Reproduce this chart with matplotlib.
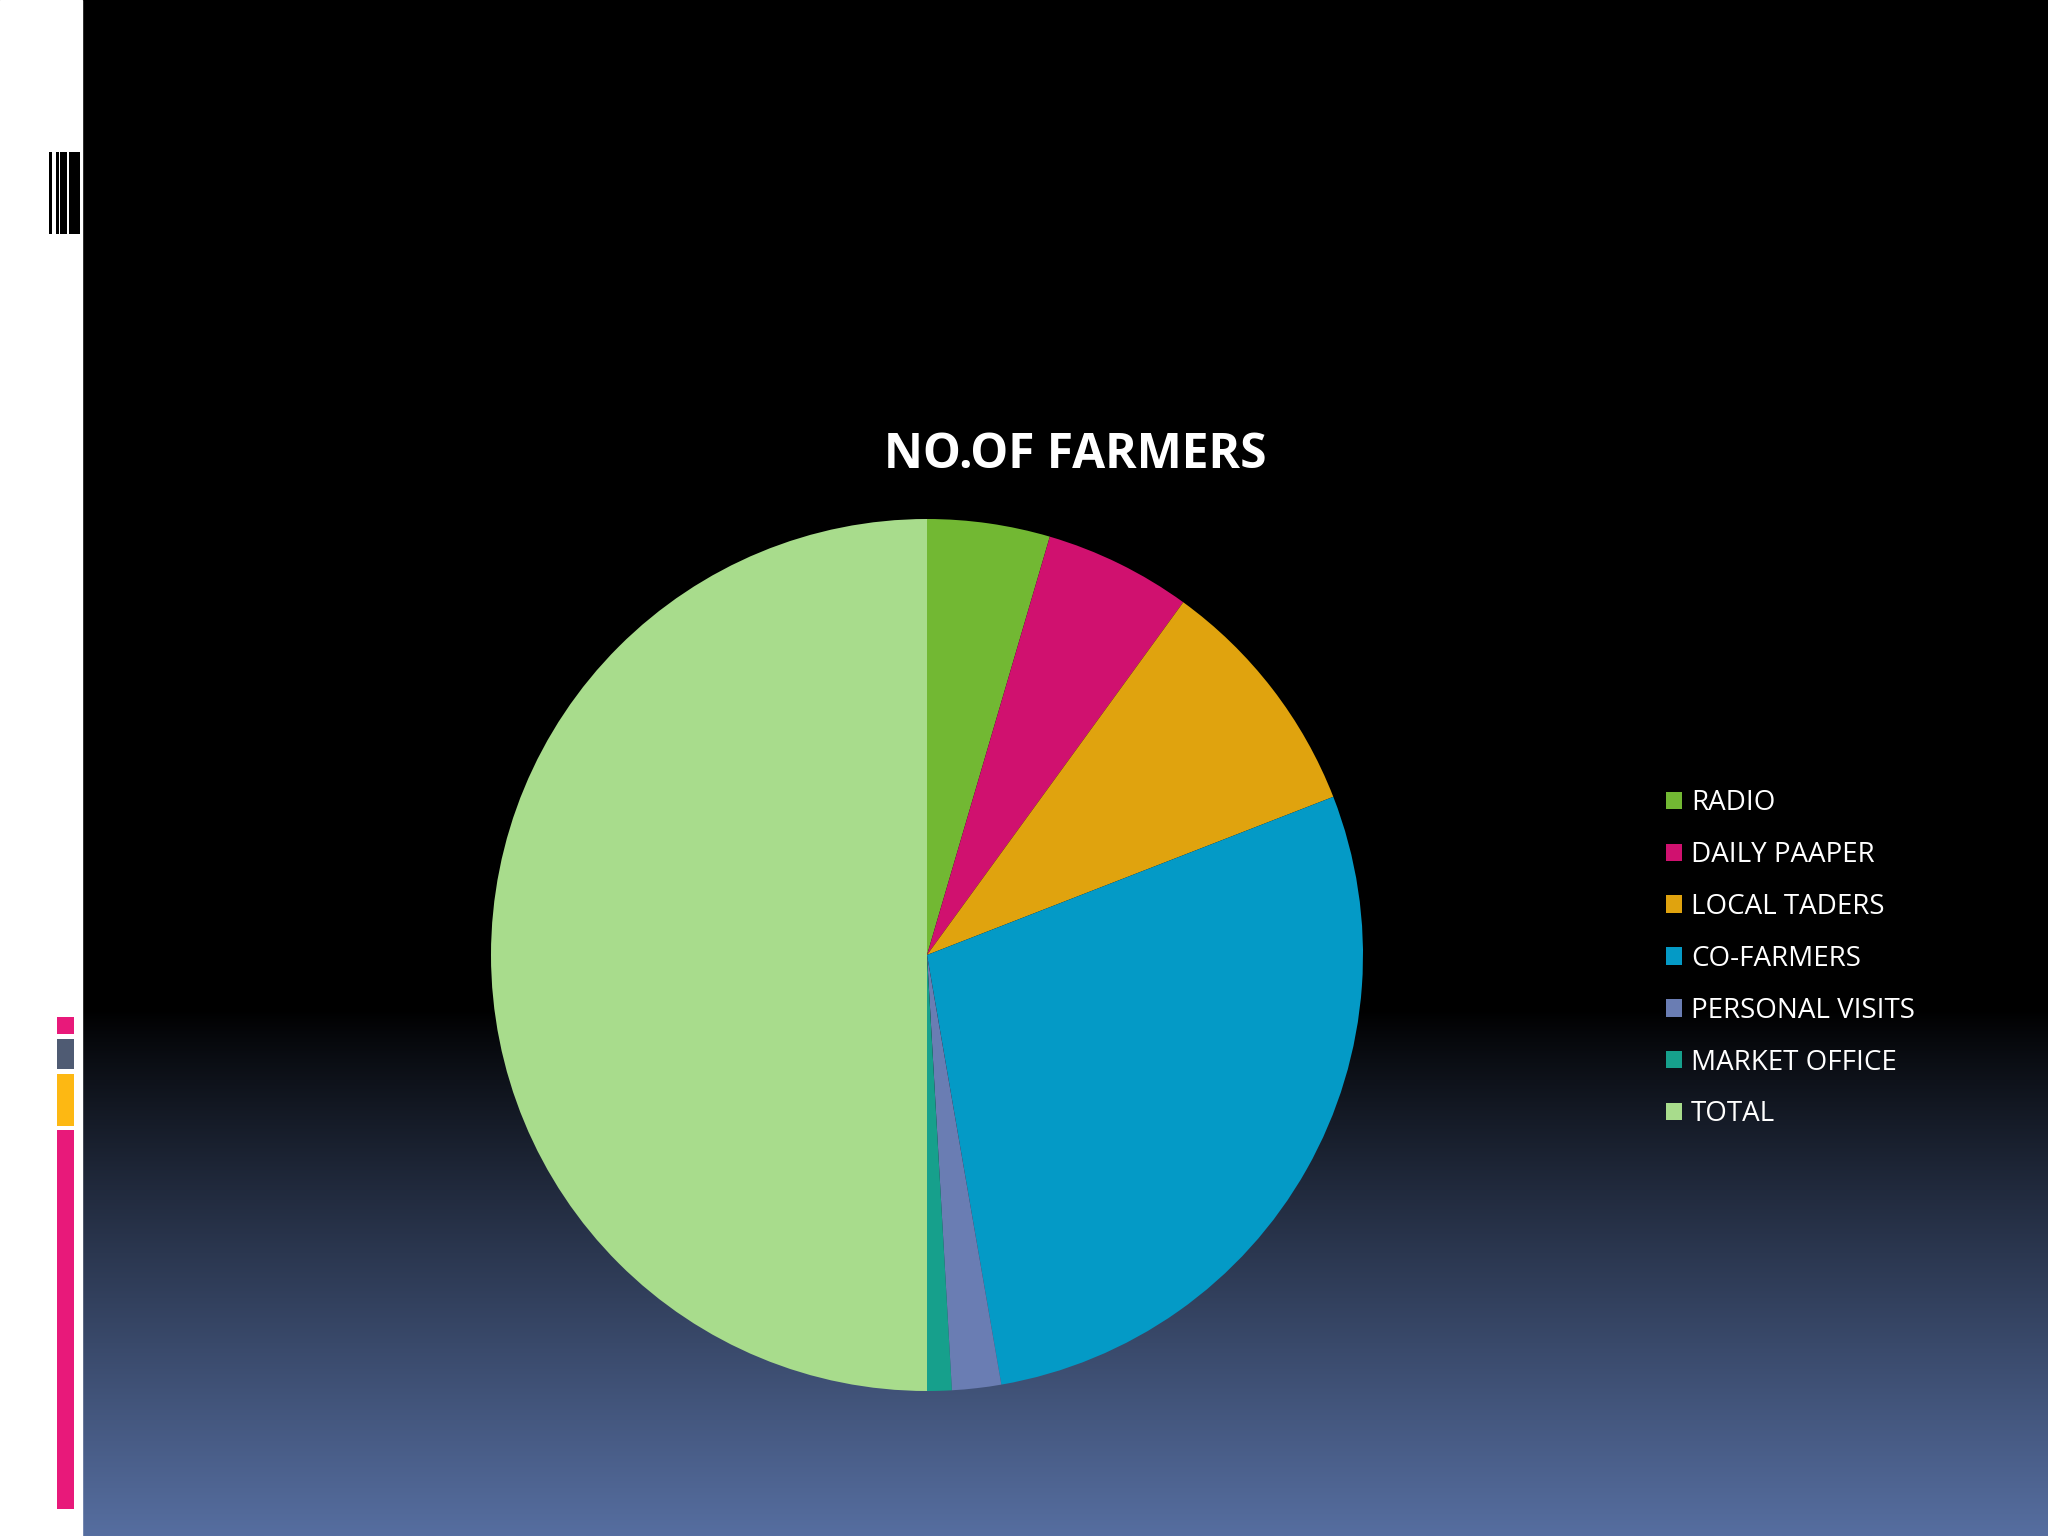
import numpy as np
import matplotlib
matplotlib.use("Agg")
import matplotlib.pyplot as plt
from matplotlib.patches import Rectangle

title = "NO.OF FARMERS"
categories = ["RADIO", "DAILY PAAPER", "LOCAL TADERS", "CO-FARMERS",
              "PERSONAL VISITS", "MARKET OFFICE", "TOTAL"]
values = [10, 12, 20, 62, 4, 2, 110]
colors = ["#72b833", "#d0116f", "#e0a30e", "#049ac6", "#6a7db3", "#16a08c", "#a8dc8c"]

W, H = 2048, 1536
fig = plt.figure(figsize=(W / 100, H / 100), dpi=100)

# background gradient
bg = fig.add_axes([0, 0, 1, 1])
bg.set_axis_off()
ys = np.linspace(0, 1, H)  # 0 = top
start = 1010 / H
t = np.clip((ys - start) / (1 - start), 0, 1)
t = t ** 0.9
top = np.array([0, 0, 0])
bot = np.array([86, 110, 160]) / 255
grad = top[None, :] * (1 - t[:, None]) + bot[None, :] * t[:, None]
img = np.repeat(grad[:, None, :], 4, axis=1)
bg.imshow(img, aspect="auto", extent=[0, W, H, 0], interpolation="bilinear")
bg.set_xlim(0, W)
bg.set_ylim(H, 0)

# left white strip and decorations
bg.add_patch(Rectangle((0, 0), 82, H, color="white", zorder=2))
for x0, x1 in [(49, 52), (56, 58.6), (60.2, 67), (69, 80)]:
    bg.add_patch(Rectangle((x0, 152), x1 - x0, 82, color="black", zorder=3, linewidth=0))
for y0, y1, c in [(1017, 1034, "#e8197a"), (1039, 1069, "#4f5b73"),
                  (1074, 1126, "#fdb813"), (1130, 1509, "#e8197a")]:
    bg.add_patch(Rectangle((57, y0), 17, y1 - y0, color=c, zorder=3, linewidth=0))

# pie
cx, cy, r = 927, 955, 436
ax = fig.add_axes([(cx - r) / W, (H - cy - r) / H, 2 * r / W, 2 * r / H])
ax.set_facecolor("none")
wedges, _ = ax.pie(values, colors=colors, startangle=90, counterclock=False,
                   radius=1, wedgeprops=dict(linewidth=0))
ax.set_xlim(-1, 1)
ax.set_ylim(-1, 1)
ax.set_aspect("equal")

fig.text(1075 / W, 1 - 455 / H, title, color="white", fontsize=34.5,
         fontweight="bold", family="Open Sans", ha="center", va="center")

leg = fig.legend(wedges, categories, loc="upper left",
                 bbox_to_anchor=(1655 / W, 1 - 778 / H), frameon=False,
                 prop=dict(family="Open Sans", size=20), labelcolor="white",
                 handlelength=0.58, handleheight=0.58, handletextpad=0.32,
                 labelspacing=0.86, borderaxespad=0)

fig.savefig("out.png", dpi=100)
